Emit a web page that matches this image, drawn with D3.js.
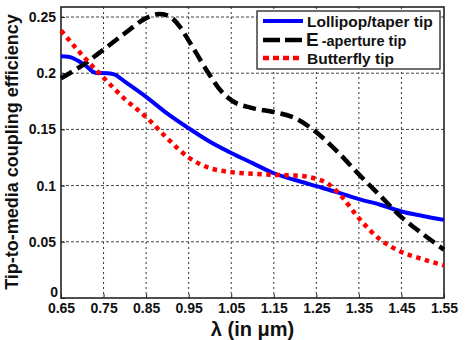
<!DOCTYPE html>
<html>
<head>
<meta charset="utf-8">
<script src="https://cdn.jsdelivr.net/npm/d3@7"></script>
<style>
  body { margin: 0; background: #fff; }
  text { font-family: "Liberation Sans", Arial, sans-serif; font-weight: bold; fill: #111; }
</style>
</head>
<body>
<script>
// wavelength samples (in um) and coupling efficiency for each tip
let lamBlue = [0.65, 0.67, 0.69, 0.71, 0.73, 0.76, 0.775, 0.80, 0.85, 0.90, 0.95, 1.00, 1.05, 1.10, 1.15, 1.20, 1.25, 1.30, 1.35, 1.40, 1.45, 1.50, 1.55];
let lollipop = [0.215, 0.2145, 0.211, 0.206, 0.2005, 0.200, 0.199, 0.1925, 0.179, 0.164, 0.151, 0.139, 0.129, 0.120, 0.111, 0.105, 0.0995, 0.094, 0.088, 0.083, 0.077, 0.073, 0.0695];

let lamBlack = [0.65, 0.70, 0.75, 0.80, 0.85, 0.88, 0.90, 0.93, 0.95, 1.00, 1.02, 1.05, 1.10, 1.15, 1.20, 1.25, 1.30, 1.35, 1.40, 1.45, 1.50, 1.55];
let eAperture = [0.1955, 0.207, 0.221, 0.2355, 0.249, 0.2527, 0.2515, 0.241, 0.229, 0.198, 0.187, 0.176, 0.169, 0.1655, 0.160, 0.1475, 0.130, 0.110, 0.091, 0.072, 0.057, 0.043];

let lamRed = [0.65, 0.70, 0.75, 0.80, 0.85, 0.90, 0.95, 1.00, 1.05, 1.10, 1.15, 1.20, 1.25, 1.28, 1.31, 1.35, 1.40, 1.45, 1.50, 1.55];
let butterfly = [0.238, 0.216, 0.196, 0.177, 0.161, 0.142, 0.125, 0.1155, 0.112, 0.1105, 0.1095, 0.109, 0.106, 0.101, 0.090, 0.071, 0.052, 0.041, 0.0345, 0.029];

let xTicks = [0.65, 0.75, 0.85, 0.95, 1.05, 1.15, 1.25, 1.35, 1.45, 1.55];
let yTicks = [0, 0.05, 0.1, 0.15, 0.2, 0.25];
let yTickLabels = ["0", "0.05", "0.1", "0.15", "0.2", "0.25"];

let width = 474, height = 340;
let plotLeft = 61, plotRight = 444, plotTop = 7, plotBottom = 298;

let svg = d3.select("body").append("svg")
    .attr("width", width)
    .attr("height", height);

let x = d3.scaleLinear().domain([0.65, 1.55]).range([plotLeft, plotRight]);
let y = d3.scaleLinear().domain([0, 0.25]).range([plotBottom, 17]);

// dotted grid
svg.append("g").selectAll("line")
    .data(xTicks.slice(1, -1))
    .enter().append("line")
    .attr("x1", d => x(d)).attr("x2", d => x(d))
    .attr("y1", plotTop).attr("y2", plotBottom)
    .attr("stroke", "#333").attr("stroke-width", 1)
    .attr("stroke-dasharray", "2,3");
svg.append("g").selectAll("line")
    .data(yTicks.slice(1))
    .enter().append("line")
    .attr("x1", plotLeft).attr("x2", plotRight)
    .attr("y1", d => y(d)).attr("y2", d => y(d))
    .attr("stroke", "#444").attr("stroke-width", 1)
    .attr("stroke-dasharray", "3,2");

// axes, ticks pointing inward
let xAxis = svg.append("g")
    .attr("transform", "translate(0," + plotBottom + ")")
    .call(d3.axisBottom(x).tickValues(xTicks).tickSize(-4).tickPadding(5).tickFormat(d3.format(".2f")));
let yAxis = svg.append("g")
    .attr("transform", "translate(" + plotLeft + ",0)")
    .call(d3.axisLeft(y).tickValues(yTicks).tickSize(-4).tickPadding(5).tickFormat((d, i) => yTickLabels[i]));
[xAxis, yAxis].forEach(a => {
    a.select(".domain").remove();
    a.selectAll(".tick line").attr("stroke", "#222");
    a.selectAll("text").attr("font-size", 14).style("font-family", "'Liberation Sans', Arial, sans-serif").style("font-weight", "bold").attr("fill", "#111");
});
yAxis.selectAll(".tick").filter(d => d === 0).select("text").attr("dy", "-0.1em").attr("x", -3);

// plot frame
svg.append("rect")
    .attr("x", plotLeft).attr("y", plotTop)
    .attr("width", plotRight - plotLeft).attr("height", plotBottom - plotTop)
    .attr("fill", "none").attr("stroke", "#222").attr("stroke-width", 1.6);

let line = d3.line()
    .x(d => x(d[0]))
    .y(d => y(d[1]))
    .curve(d3.curveMonotoneX);

let series = [
    {name: "Lollipop/taper tip", lam: lamBlue, val: lollipop, color: "#0000ff", dash: null, w: 4},
    {name: "E-aperture tip", lam: lamBlack, val: eAperture, color: "#000", dash: "13,6", w: 4.5},
    {name: "Butterfly tip", lam: lamRed, val: butterfly, color: "#ff0000", dash: "4.5,4.5", w: 4.5}
];

svg.append("g").selectAll("path")
    .data(series)
    .enter().append("path")
    .attr("d", s => line(d3.zip(s.lam, s.val)))
    .attr("fill", "none")
    .attr("stroke", s => s.color)
    .attr("stroke-width", s => s.w)
    .attr("stroke-dasharray", s => s.dash);

// legend
let legend = svg.append("g");
legend.append("rect")
    .attr("x", 257).attr("y", 11).attr("width", 183).attr("height", 58)
    .attr("fill", "#fff").attr("stroke", "#222").attr("stroke-width", 1.3);
let rows = [21, 40, 58];
series.forEach((s, i) => {
    legend.append("line")
        .attr("x1", 263).attr("x2", 303)
        .attr("y1", rows[i]).attr("y2", rows[i])
        .attr("stroke", s.color)
        .attr("stroke-width", s.w)
        .attr("stroke-dasharray", i === 1 ? "17,5" : (i === 2 ? "6,4" : null));
});
legend.append("text").attr("x", 307).attr("y", rows[0] + 5.5).attr("font-size", 15.5).text("Lollipop/taper tip");
let eText = legend.append("text").attr("x", 306).attr("y", rows[1] + 6);
eText.append("tspan").attr("font-size", 19).text("E");
eText.append("tspan").attr("font-size", 14.5).attr("dx", 3).text("-aperture tip");
legend.append("text").attr("x", 307).attr("y", rows[2] + 5.5).attr("font-size", 15.5).text("Butterfly tip");

// axis titles
svg.append("text")
    .attr("x", (plotLeft + plotRight) / 2).attr("y", 336)
    .attr("text-anchor", "middle")
    .attr("font-size", 20)
    .text("λ (in μm)");
svg.append("text")
    .attr("transform", "translate(18," + 152 + ") rotate(-90)")
    .attr("text-anchor", "middle")
    .attr("font-size", 18)
    .text("Tip-to-media coupling efficiency");
</script>
</body>
</html>
